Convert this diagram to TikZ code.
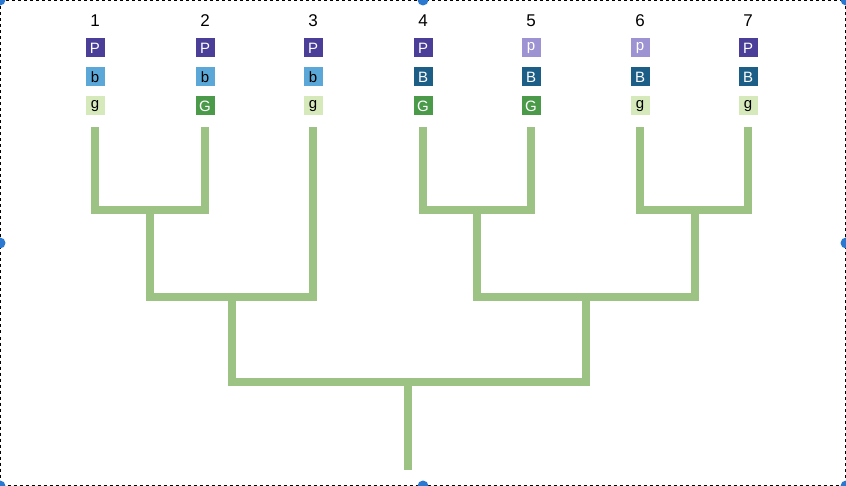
\documentclass[tikz,border=0pt]{standalone}
\usepackage{fontspec}
\setmainfont{Liberation Sans}
\definecolor{Pdark}{HTML}{4A3E98}
\definecolor{Plight}{HTML}{9D92D2}
\definecolor{Blight}{HTML}{5BA8D8}
\definecolor{Bdark}{HTML}{1D5E86}
\definecolor{Glight}{HTML}{D6E9BA}
\definecolor{Gdark}{HTML}{4A9A4A}
\definecolor{tree}{HTML}{9CC383}
\definecolor{handle}{HTML}{2A78D0}
\tikzset{
 allele/.style={minimum width=19pt,minimum height=19pt,inner sep=0pt,font=\fontsize{15}{15}\selectfont},
 num/.style={font=\fontsize{17}{17}\selectfont},
 branch/.style={draw=tree,line width=8pt,line join=miter},
 hdl/.style={circle,fill=handle,minimum size=11pt,inner sep=0pt}
}
\begin{document}
\begin{tikzpicture}[x=1pt,y=-1pt]
\useasboundingbox (0,0) rectangle (846,486);
\draw[dashed,line width=1pt] (0.5,0.5) rectangle (845.5,485.5);
\foreach \x/\n/\fa/\ka/\ta/\fb/\kb/\tb/\fc/\kc/\tc in {
 95/1/Pdark/white/P/Blight/black/b/Glight/black/g,
 205/2/Pdark/white/P/Blight/black/b/Gdark/white/G,
 313/3/Pdark/white/P/Blight/black/b/Glight/black/g,
 423/4/Pdark/white/P/Bdark/white/B/Gdark/white/G,
 531/5/Plight/white/p/Bdark/white/B/Gdark/white/G,
 640/6/Plight/white/p/Bdark/white/B/Glight/black/g,
 748/7/Pdark/white/P/Bdark/white/B/Glight/black/g}{
 \node[num] (n\n) at (\x,21) {\n};
 \node[allele,fill=\fa,text=\ka] (a\n) at (\x,48) {\ta};
 \node[allele,fill=\fb,text=\kb] (b\n) at (\x,77) {\tb};
 \node[allele,fill=\fc,text=\kc] (c\n) at (\x,106) {\tc};
 \coordinate (l\n) at (\x,127);
}
\coordinate (r) at (408,470);
\draw[branch] (l1) |- (150,210) -| (l2);
\draw[branch] (150,210) |- (232,297) -| (l3);
\draw[branch] (l4) |- (477,210) -| (l5);
\draw[branch] (l6) |- (695,210) -| (l7);
\draw[branch] (477,210) |- (586,297) -| (695,210);
\draw[branch] (232,297) |- (408,382) -| (586,297);
\draw[branch] (408,382) -- (r);
\foreach \p [count=\k] in {(0,0),(423,0),(846,0),(0,243),(846,243),(0,486),(423,486),(846,486)}
 \node[hdl] (h\k) at \p {};
\end{tikzpicture}
\end{document}
